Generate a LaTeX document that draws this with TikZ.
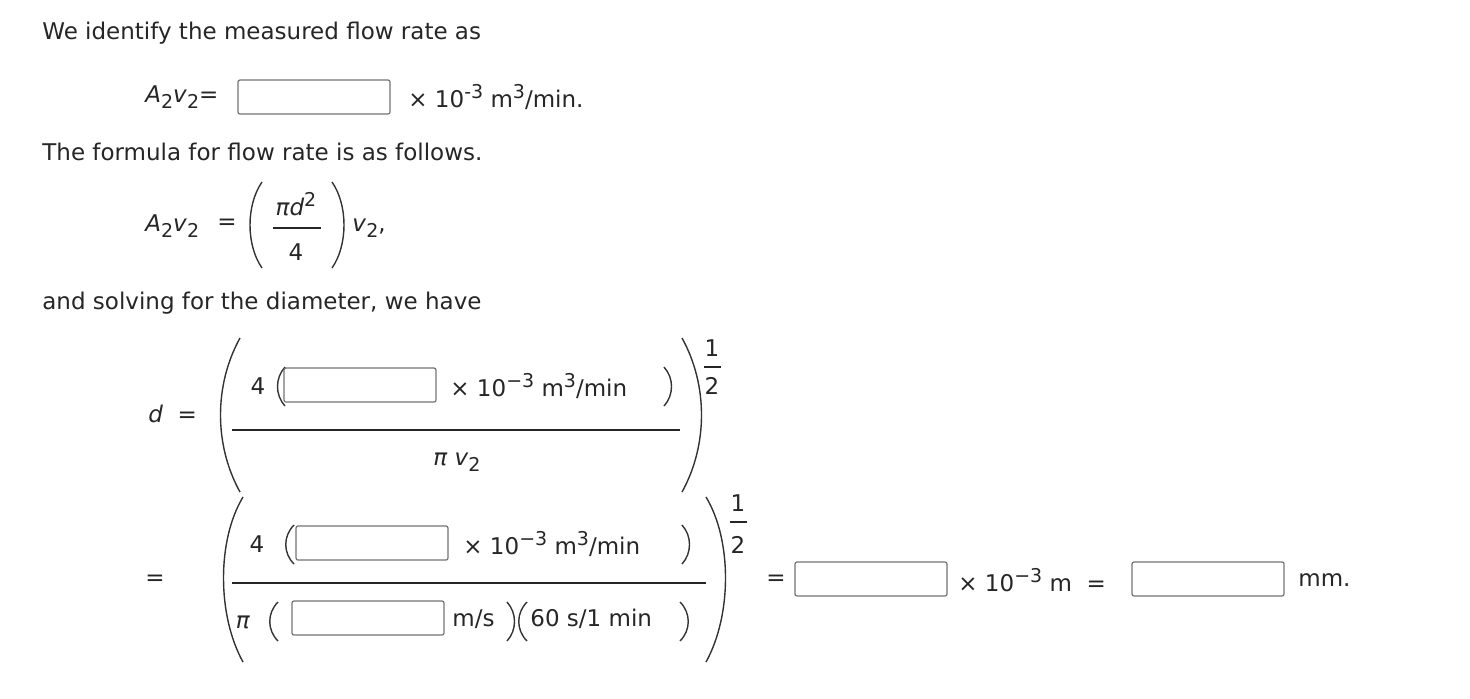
\documentclass[tikz,border=0pt]{standalone}
\usepackage{fontspec}
\setmainfont{DejaVu Sans}
\newcommand{\lo}[1]{\raisebox{-0.45ex}{\fontsize{9.5}{10}\selectfont #1}}
\newcommand{\hi}[1]{\raisebox{0.75ex}{\fontsize{9.5}{10}\selectfont #1}}
\begin{document}
\begin{tikzpicture}[x=0.5pt,y=-0.5pt,
  every node/.style={inner sep=0pt,font=\fontsize{11.5}{14}\selectfont,text=black!85},
  txt/.style={anchor=west},
  ans/.style={draw=black!55,line width=0.6pt,rounded corners=1pt,minimum width=76pt,minimum height=17pt},
  par/.style={draw=black!80,line width=0.7pt},
  bar/.style={draw=black!85,line width=0.7pt}]
\useasboundingbox (0,0) rectangle (1470,698);
\node[txt] (t1) at (42,33) {We identify the measured flow rate as};
\node[txt] (l1) at (145,97) {\textit{A}\lo{2}\textit{v}\lo{2}=};
\node[ans] (b1) at (314,97) {};
\node[txt] (u1) at (408,97) {× 10\hi{-3} m\hi{3}/min.};
\node[txt] (t2) at (42,152) {The formula for flow rate is as follows.};
\node[txt] (l2) at (145,226) {\textit{A}\lo{2}\textit{v}\lo{2}};
\node (eq2) at (227,224) {=};
\draw[par] (262,182) .. controls (246,205) and (246,245) .. (262,268);
\node (n2) at (296,204) {\textit{πd}\hi{2}};
\draw[bar] (273,228) -- (321,228);
\node (d2) at (296,252) {4};
\draw[par] (332,182) .. controls (348,205) and (348,245) .. (332,268);
\node[txt] (v2) at (352,228) {\textit{v}\lo{2},};
\node[txt] (t3) at (42,303) {and solving for the diameter, we have};
% row d
\node[txt] (dd) at (148,414) {\textit{d} \ =};
\draw[par] (240,338) .. controls (214,385) and (214,445) .. (240,492);
\node (four1) at (258,386) {4};
\draw[par] (285,367) .. controls (275,378) and (275,395) .. (285,406);
\node[ans] (b2) at (360,385) {};
\node[txt] (u2) at (450,386) {× 10\hi{−3} m\hi{3}/min};
\draw[par] (664,367) .. controls (674,378) and (674,395) .. (664,406);
\draw[bar] (232,430) -- (680,430);
\node (pv) at (457,462) {\textit{π v}\lo{2}};
\draw[par] (682,338) .. controls (708,385) and (708,445) .. (682,492);
\node (e1a) at (712,348) {1};
\draw[bar] (704,367) -- (721,367);
\node (e1b) at (712,386) {2};
% row 2
\node (eq3) at (155,580) {=};
\draw[par] (243,497) .. controls (217,540) and (217,615) .. (243,662);
\node (four2) at (257,544) {4};
\draw[par] (294,525) .. controls (283,536) and (283,553) .. (294,564);
\node[ans] (b3) at (372,543) {};
\node[txt] (u3) at (463,544) {× 10\hi{−3} m\hi{3}/min};
\draw[par] (682,525) .. controls (692,536) and (692,553) .. (682,564);
\draw[bar] (232,583) -- (706,583);
\node (pi2) at (243,622) {\textit{π}};
\draw[par] (278,602) .. controls (267,613) and (267,630) .. (278,641);
\node[ans] (b4) at (368,618) {};
\node[txt] (u4) at (452,619) {m/s};
\draw[par] (507,602) .. controls (517,613) and (517,630) .. (507,641);
\draw[par] (527,602) .. controls (516,613) and (516,630) .. (527,641);
\node[txt] (u5) at (530,619) {60 s/1 min};
\draw[par] (680,602) .. controls (691,613) and (691,630) .. (680,641);
\draw[par] (706,497) .. controls (732,540) and (732,615) .. (706,662);
\node (e2a) at (738,503) {1};
\draw[bar] (730,522) -- (747,522);
\node (e2b) at (738,545) {2};
\node (eq4) at (776,580) {=};
\node[ans] (b5) at (871,579) {};
\node[txt] (u6) at (958,580) {× 10\hi{−3} m \ =};
\node[ans] (b6) at (1208,579) {};
\node[txt] (u7) at (1298,580) {mm.};
\end{tikzpicture}
\end{document}
